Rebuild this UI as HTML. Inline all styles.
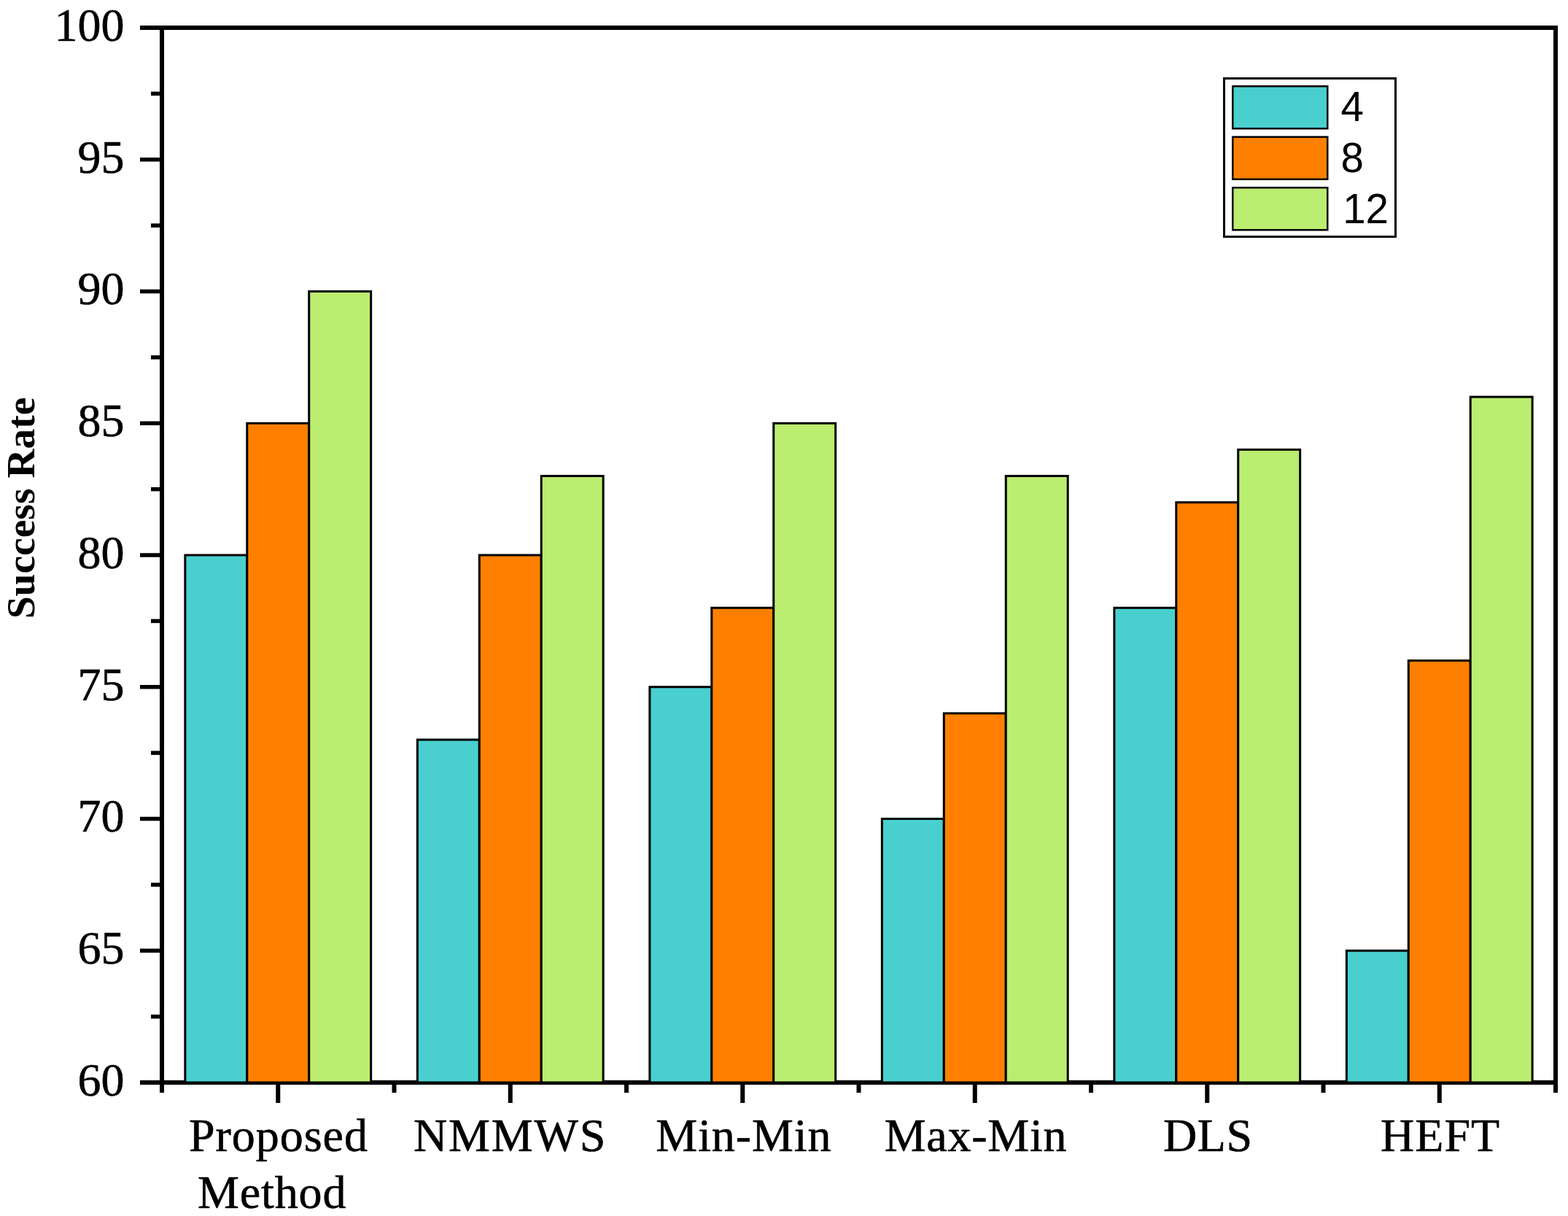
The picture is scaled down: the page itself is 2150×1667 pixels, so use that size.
<!DOCTYPE html>
<html><head><meta charset="utf-8"><title>Success Rate</title>
<style>html,body{margin:0;padding:0;background:#fff;}body{width:2150px;height:1667px;overflow:hidden;}svg{display:block;}</style>
</head><body>
<svg width="2150" height="1667" viewBox="0 0 2150 1667">
<rect width="2150" height="1667" fill="#fff"/>
<g fill="#000">
<rect x="219" y="35" width="6" height="1463"/>
<rect x="2130" y="35" width="6" height="1463"/>
<rect x="192" y="35" width="1944" height="6"/>
<rect x="192" y="1481" width="1944" height="6"/>
<rect x="207" y="1390.88" width="13" height="5.5"/>
<rect x="192" y="1300.50" width="28" height="5.5"/>
<rect x="207" y="1210.12" width="13" height="5.5"/>
<rect x="192" y="1119.75" width="28" height="5.5"/>
<rect x="207" y="1029.38" width="13" height="5.5"/>
<rect x="192" y="939.00" width="28" height="5.5"/>
<rect x="207" y="848.62" width="13" height="5.5"/>
<rect x="192" y="758.25" width="28" height="5.5"/>
<rect x="207" y="667.88" width="13" height="5.5"/>
<rect x="192" y="577.50" width="28" height="5.5"/>
<rect x="207" y="487.12" width="13" height="5.5"/>
<rect x="192" y="396.75" width="28" height="5.5"/>
<rect x="207" y="306.38" width="13" height="5.5"/>
<rect x="192" y="216.00" width="28" height="5.5"/>
<rect x="207" y="125.62" width="13" height="5.5"/>
<rect x="378.25" y="1486" width="6" height="26"/>
<rect x="696.75" y="1486" width="6" height="26"/>
<rect x="1015.25" y="1486" width="6" height="26"/>
<rect x="1333.75" y="1486" width="6" height="26"/>
<rect x="1652.25" y="1486" width="6" height="26"/>
<rect x="1970.75" y="1486" width="6" height="26"/>
<rect x="537.50" y="1486" width="6" height="12"/>
<rect x="856.00" y="1486" width="6" height="12"/>
<rect x="1174.50" y="1486" width="6" height="12"/>
<rect x="1493.00" y="1486" width="6" height="12"/>
<rect x="1811.50" y="1486" width="6" height="12"/>
</g>
<g stroke="#000" stroke-width="3">
<rect x="253.85" y="761.00" width="84.93" height="723.00" fill="#4ACFCF"/>
<rect x="338.78" y="580.25" width="84.93" height="903.75" fill="#FF8000"/>
<rect x="423.72" y="399.50" width="84.93" height="1084.50" fill="#BBED70"/>
<rect x="572.35" y="1014.05" width="84.93" height="469.95" fill="#4ACFCF"/>
<rect x="657.28" y="761.00" width="84.93" height="723.00" fill="#FF8000"/>
<rect x="742.22" y="652.55" width="84.93" height="831.45" fill="#BBED70"/>
<rect x="890.85" y="941.75" width="84.93" height="542.25" fill="#4ACFCF"/>
<rect x="975.78" y="833.30" width="84.93" height="650.70" fill="#FF8000"/>
<rect x="1060.72" y="580.25" width="84.93" height="903.75" fill="#BBED70"/>
<rect x="1209.35" y="1122.50" width="84.93" height="361.50" fill="#4ACFCF"/>
<rect x="1294.28" y="977.90" width="84.93" height="506.10" fill="#FF8000"/>
<rect x="1379.22" y="652.55" width="84.93" height="831.45" fill="#BBED70"/>
<rect x="1527.85" y="833.30" width="84.93" height="650.70" fill="#4ACFCF"/>
<rect x="1612.78" y="688.70" width="84.93" height="795.30" fill="#FF8000"/>
<rect x="1697.72" y="616.40" width="84.93" height="867.60" fill="#BBED70"/>
<rect x="1846.35" y="1303.25" width="84.93" height="180.75" fill="#4ACFCF"/>
<rect x="1931.28" y="905.60" width="84.93" height="578.40" fill="#FF8000"/>
<rect x="2016.22" y="544.10" width="84.93" height="939.90" fill="#BBED70"/>
</g>
<g font-family="Liberation Serif, serif" font-size="64" text-anchor="end" fill="#000" stroke="#000" stroke-width="0.6">
<text x="170.6" y="1501.8">60</text>
<text x="170.6" y="1321.0">65</text>
<text x="170.6" y="1140.3">70</text>
<text x="170.6" y="959.5">75</text>
<text x="170.6" y="778.8">80</text>
<text x="170.6" y="598.0">85</text>
<text x="170.6" y="417.3">90</text>
<text x="170.6" y="236.6">95</text>
<text x="170.6" y="55.8">100</text>
</g>
<g font-family="Liberation Serif, serif" font-size="64" fill="#000" stroke="#000" stroke-width="0.6">
<text x="258.9" y="1578" letter-spacing="0.971">Proposed</text>
<text x="271.0" y="1656" letter-spacing="0.88">Method</text>
<text x="567.0" y="1578" letter-spacing="1.825">NMMWS</text>
<text x="899.3" y="1578" letter-spacing="0.933">Min-Min</text>
<text x="1212.7" y="1578" letter-spacing="0.733">Max-Min</text>
<text x="1595.0" y="1578" letter-spacing="0.65">DLS</text>
<text x="1893.0" y="1578" letter-spacing="1.033">HEFT</text>
</g>
<text transform="translate(46.8,696.5) rotate(-90)" text-anchor="middle" font-family="Liberation Serif, serif" font-weight="bold" font-size="55.5">Success Rate</text>
<rect x="1678.5" y="107.5" width="235" height="217" fill="#fff" stroke="#000" stroke-width="3"/>
<rect x="1690.25" y="118.25" width="130" height="58" fill="#4ACFCF" stroke="#000" stroke-width="2.5"/>
<rect x="1690.25" y="187.75" width="130" height="58" fill="#FF8000" stroke="#000" stroke-width="2.5"/>
<rect x="1690.25" y="257.25" width="130" height="58" fill="#BBED70" stroke="#000" stroke-width="2.5"/>
<g font-family="Liberation Sans, sans-serif" font-size="56.5" fill="#000">
<text x="1838.5" y="166">4</text>
<text x="1838.5" y="236">8</text>
<text x="1841.2" y="306">12</text>
</g>
</svg>
</body></html>
